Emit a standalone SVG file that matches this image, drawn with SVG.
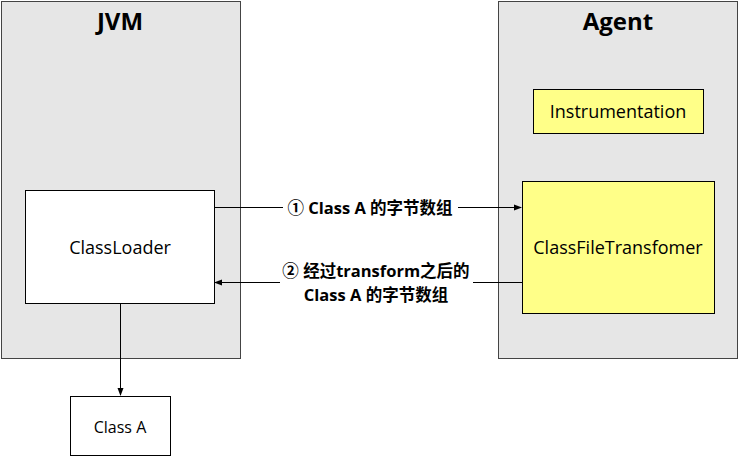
<svg xmlns="http://www.w3.org/2000/svg" width="739" height="456" viewBox="0 0 739 456">
<style>
.c{fill:#e6e6e6;stroke:#444;stroke-width:1}
.n{fill:#fff;stroke:#000;stroke-width:1}
.y{fill:#ffff88;stroke:#000;stroke-width:1}
text{font-family:"Open Sans","Noto Sans CJK SC",sans-serif;fill:#000}
.t{font-size:24px;font-weight:bold;text-anchor:middle}
.l{font-size:18px;text-anchor:middle}
.e{font-size:16.5px;font-weight:bold;text-anchor:middle}
.k{stroke:#000;stroke-width:1;fill:none}
</style>
<defs><marker id="a" markerWidth="8" markerHeight="8" refX="7" refY="4" orient="auto" markerUnits="userSpaceOnUse"><path d="M0,1 L8,4 L0,7 Z" fill="#000"/></marker></defs>
<rect width="739" height="456" fill="#fff"/>
<g id="jvm"><rect class="c" x="1.5" y="1.5" width="239" height="357"/><text class="t" x="120" y="30">JVM</text></g>
<g id="agent"><rect class="c" x="498.5" y="1.5" width="239" height="357"/><text class="t" x="618" y="30">Agent</text></g>
<g id="classloader"><rect class="n" x="25.5" y="190.5" width="189" height="113"/><text class="l" x="120" y="254">ClassLoader</text></g>
<g id="classa"><rect class="n" x="70.5" y="396.5" width="100" height="59"/><text class="l" x="120" y="433" style="font-size:16px">Class A</text></g>
<g id="instrumentation"><rect class="y" x="533.5" y="89.5" width="170" height="44"/><text class="l" x="618" y="118">Instrumentation</text></g>
<g id="transformer"><rect class="y" x="522.5" y="181.5" width="192" height="132"/><text class="l" x="618" y="254">ClassFileTransfomer</text></g>
<g id="connectors">
<line class="k" x1="215" y1="207.5" x2="521" y2="207.5" marker-end="url(#a)"/>
<line class="k" x1="522" y1="282.5" x2="215" y2="282.5" marker-end="url(#a)"/>
<line class="k" x1="120.5" y1="304" x2="120.5" y2="395" marker-end="url(#a)"/>
<rect x="283" y="197" width="175" height="21" fill="#fff"/>
<text class="e" x="370" y="214">① Class A 的字节数组</text>
<rect x="280" y="260" width="193" height="44" fill="#fff"/>
<text class="e" x="376" y="277">② 经过transform之后的</text>
<text class="e" x="376" y="301">Class A 的字节数组</text>
</g>
</svg>
